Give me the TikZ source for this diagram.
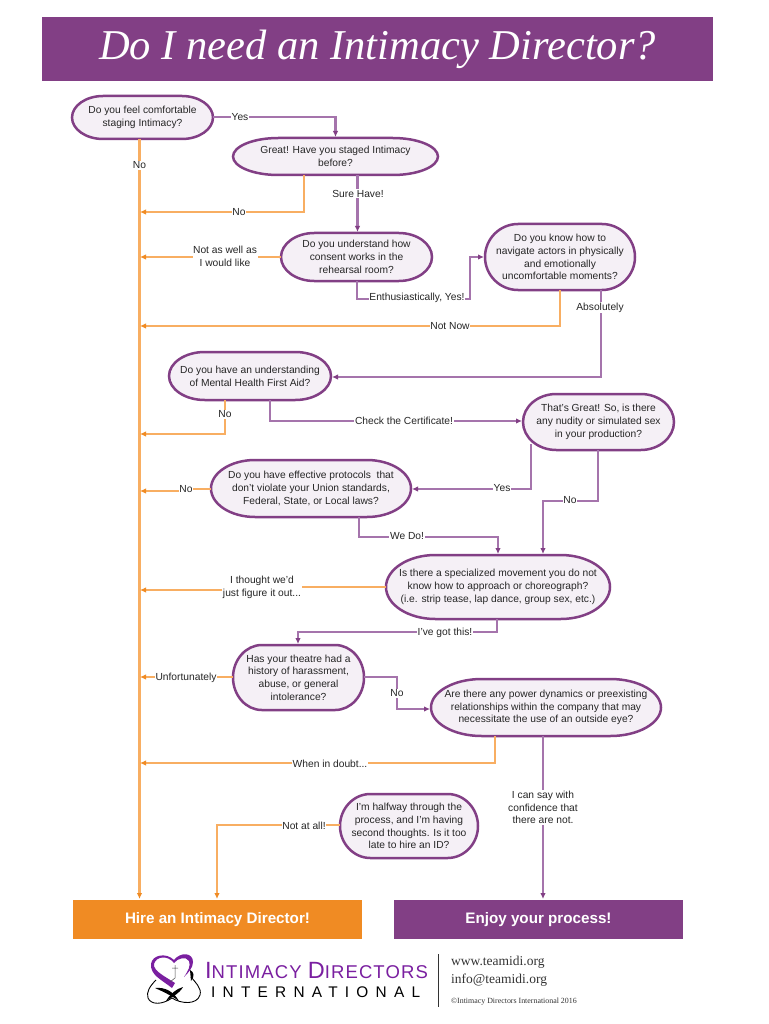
\documentclass[tikz,border=0pt]{standalone}
\usepackage{fontspec}
\setmainfont{Liberation Sans}
\newfontfamily\serifed{Liberation Serif}
\newfontfamily\spaced[LetterSpace=47]{Liberation Sans}
\newfontfamily\spacedb[LetterSpace=6]{Liberation Sans}
\usetikzlibrary{arrows.meta}
\definecolor{idpurple}{HTML}{823F85}
\definecolor{idline}{HTML}{A574AC}
\definecolor{idorange}{HTML}{F08B23}
\definecolor{idoline}{HTML}{F8AE62}
\definecolor{idfill}{HTML}{F5F0F6}
\definecolor{logopurple}{HTML}{7A1FA0}
\tikzset{
  pill/.style={draw=idpurple,line width=2.5pt,fill=idfill},
  q/.style 2 args={minimum width=#1pt,minimum height=#2pt,align=center,font=\fontsize{10.25}{12.7}\selectfont,text=black!85,inner sep=0pt},
  pl/.style={draw=idline,line width=2.2pt,-{Latex[length=6pt,width=5.5pt,color=idpurple]}},
  ol/.style={draw=idoline,line width=2.2pt,-{Latex[length=6pt,width=5.5pt,color=idorange]}},
  lab/.style={fill=white,inner sep=0.6pt,yshift=-0.5pt,align=center,font=\fontsize{10.25}{12.7}\selectfont,text=black!85},
  banner/.style={minimum width=289pt,minimum height=39pt,inner sep=0pt,text=white,font=\bfseries\fontsize{15.2}{17}\selectfont},
}
% name, x, y, w, h, text: pill with elliptical ends, and its node on top
\newcommand\qbox[6]{%
  \pgfmathsetmacro\qL{#2-#4/2}\pgfmathsetmacro\qR{#2+#4/2}%
  \pgfmathsetmacro\qT{#3-#5/2}\pgfmathsetmacro\qB{#3+#5/2}%
  \pgfmathsetmacro\qrx{0.22*#4}\pgfmathsetmacro\qcx{0.45*\qrx}\pgfmathsetmacro\qcy{0.45*#5/2}%
  \draw[pill] ({\qL+\qrx},\qT) -- ({\qR-\qrx},\qT)
    .. controls ({\qR-\qcx},\qT) and (\qR,{\qT+\qcy}) .. (\qR,#3)
    .. controls (\qR,{\qB-\qcy}) and ({\qR-\qcx},\qB) .. ({\qR-\qrx},\qB)
    -- ({\qL+\qrx},\qB)
    .. controls ({\qL+\qcx},\qB) and (\qL,{\qB-\qcy}) .. (\qL,#3)
    .. controls (\qL,{\qT+\qcy}) and ({\qL+\qcx},\qT) .. ({\qL+\qrx},\qT) -- cycle;
  \node[q={#4}{#5}] (#1) at (#2,#3) {#6};%
}
\begin{document}
\begin{tikzpicture}[x=1pt,y=-1pt]
\useasboundingbox (0,0) rectangle (768,1024);
\fill[white] (0,0) rectangle (768,1024);
\node[fill=idpurple,minimum width=671pt,minimum height=64pt,inner sep=0pt,text=white,font=\serifed\itshape\fontsize{42.5}{42}\selectfont] (title) at (377.5,49) {Do I need an Intimacy Director?};
\qbox{n1}{142.5}{117.5}{141}{43}{Do you feel comfortable\\staging Intimacy?}
\qbox{n2}{335.5}{156.5}{205}{37}{Great! Have you staged Intimacy\\before?}
\qbox{n3}{356.5}{257}{151}{48}{Do you understand how\\consent works in the\\rehearsal room?}
\qbox{n4}{560}{257}{150}{66}{Do you know how to\\navigate actors in physically\\and emotionally\\uncomfortable moments?}
\qbox{n5}{250}{376}{162}{48}{Do you have an understanding\\of Mental Health First Aid?}
\qbox{n6}{598.5}{422}{151}{56}{That's Great! So, is there\\any nudity or simulated sex\\in your production?}
\qbox{n7}{311}{488.5}{200}{57}{Do you have effective protocols\ \ that\\don't violate your Union standards,\\Federal, State, or Local laws?}
\qbox{n8}{498}{587}{224}{64}{Is there a specialized movement you do not\\know how to approach or choreograph?\\(i.e. strip tease, lap dance, group sex, etc.)}
\qbox{n9}{298.5}{677.5}{131}{65}{Has your theatre had a\\history of harassment,\\abuse, or general\\intolerance?}
\qbox{n10}{546}{707.5}{230}{57}{Are there any power dynamics or preexisting\\relationships within the company that may\\necessitate the use of an outside eye?}
\qbox{n11}{409}{826}{138}{64}{I'm halfway through the\\process, and I'm having\\second thoughts. Is it too\\late to hire an ID?}
\node[fill=idorange,banner] (hire) at (217.5,919.5) {Hire an Intimacy Director!};
\node[fill=idpurple,banner] (enjoy) at (538.5,919.5) {Enjoy your process!};
% connectors
\draw[ol] (139.5,139) -- (139.5,899);
\draw[pl] (213,117) -- (335.5,117) -- (335.5,137);
\draw[ol] (304,175) -- (304,212) -- (140,212);
\draw[pl] (357.5,175) -- (357.5,232);
\draw[ol] (281,257) -- (140,257);
\draw[pl] (357,281) -- (357,299) -- (470,299) -- (470,257) -- (484,257);
\draw[ol] (560,290) -- (560,326) -- (140,326);
\draw[pl] (601,290) -- (601,377) -- (332,377);
\draw[ol] (225,400) -- (225,434) -- (140,434);
\draw[pl] (270,400) -- (270,421) -- (522,421);
\draw[pl] (531,444) -- (531,489) -- (412,489);
\draw[pl] (598,450) -- (598,501) -- (543,501) -- (543,554);
\draw[ol] (211,489) -- (186,489) -- (186,491) -- (140,491);
\draw[pl] (359,517) -- (359,537) -- (498,537) -- (498,554);
\draw[ol] (386,587) -- (262,587) -- (262,590) -- (140,590);
\draw[pl] (497,619) -- (497,632) -- (298,632) -- (298,644);
\draw[ol] (233,677) -- (140,677);
\draw[pl] (364,677) -- (397,677) -- (397,709) -- (430,709);
\draw[ol] (495,736) -- (495,763) -- (140,763);
\draw[pl] (543,736) -- (543,899);
\draw[ol] (340,825) -- (217,825) -- (217,899);
% labels
\node[lab] (ln1) at (139.5,165) {No};
\node[lab] (ly1) at (240,116.5) {Yes};
\node[lab] (ln2) at (239,211.5) {No};
\node[lab] (ls) at (358,193) {Sure Have!};
\node[lab] (lw) at (225,256) {Not as well as\\I would like};
\node[lab] (le) at (417,297) {Enthusiastically, Yes!};
\node[lab] (lnn) at (450,326) {Not Now};
\node[lab] (la) at (600,307) {Absolutely};
\node[lab] (ln5) at (225,414) {No};
\node[lab] (lc) at (404,420.5) {Check the Certificate!};
\node[lab] (ly6) at (502,488) {Yes};
\node[lab] (ln6) at (570,500) {No};
\node[lab] (ln7) at (186,489) {No};
\node[lab] (lw7) at (407,536) {We Do!};
\node[lab] (lt) at (262,587) {I thought we'd\\just figure it out...};
\node[lab] (lg) at (445,632) {I've got this!};
\node[lab] (lu) at (186,677) {Unfortunately};
\node[lab] (ln9) at (397,693) {No};
\node[lab] (ld) at (330,763) {When in doubt...};
\node[lab] (lc2) at (543,807) {I can say with\\confidence that\\there are not.};
\node[lab] (lnot) at (304,825) {Not at all!};
% logo
\fill[logopurple] (172,988) .. controls (162,980) and (150,975) .. (151,964) .. controls (152,955) and (166,952) .. (174,960) .. controls (180,952) and (193,952) .. (193,962) .. controls (193,968) and (188,973) .. (184,977) .. controls (188,971) and (191,966) .. (189,961) .. controls (186,956) and (178,958) .. (174,963) .. controls (168,955) and (156,956) .. (154,964) .. controls (153,971) and (166,977) .. (175,983) -- cycle;
\draw[black,line width=0.9pt] (156,980) .. controls (150,986) and (146,992) .. (148,998) .. controls (151,1005) and (162,1005) .. (172,998) .. controls (181,1004) and (197,1005) .. (200,995) .. controls (202,988) and (195,982) .. (191,977);
\fill[black] (155,988) .. controls (165,987) and (173,991) .. (179,1001) .. controls (172,996) and (164,992) .. (155,988) -- cycle;
\fill[black] (183,987) .. controls (176,989) and (170,994) .. (166,1001) .. controls (172,997) and (179,994) .. (183,987) -- cycle;
\fill[black] (190,970) .. controls (194,972) and (195,976) .. (191,981) -- cycle;
\draw[black!70,line width=0.5pt] (175,965) -- (175,978) (172,968) -- (178,968) (175,978) -- (170,982);
\node[text=logopurple,anchor=west,inner sep=0pt,font=\spacedb\fontsize{23.5}{24}\selectfont] (lg1) at (205,970) {I\fontsize{18.5}{24}\selectfont NTIMACY \fontsize{23.5}{24}\selectfont D\fontsize{18.5}{24}\selectfont IRECTORS};
\node[text=black,anchor=west,inner sep=0pt,font=\spaced\fontsize{15.4}{16}\selectfont] (lg2) at (211,992) {INTERNATIONAL};
\draw[black!80,line width=0.8pt] (438,954) -- (438,1007);
\node[anchor=west,inner sep=0pt,font=\serifed\fontsize{13.5}{14}\selectfont,text=black!80] (w1) at (451,962) {www.teamidi.org};
\node[anchor=west,inner sep=0pt,font=\serifed\fontsize{13.5}{14}\selectfont,text=black!80] (w2) at (451,980) {info@teamidi.org};
\node[anchor=west,inner sep=0pt,font=\serifed\fontsize{7.9}{10}\selectfont,text=black!80] (w3) at (451,1002) {©Intimacy Directors International 2016};
\end{tikzpicture}
\end{document}
